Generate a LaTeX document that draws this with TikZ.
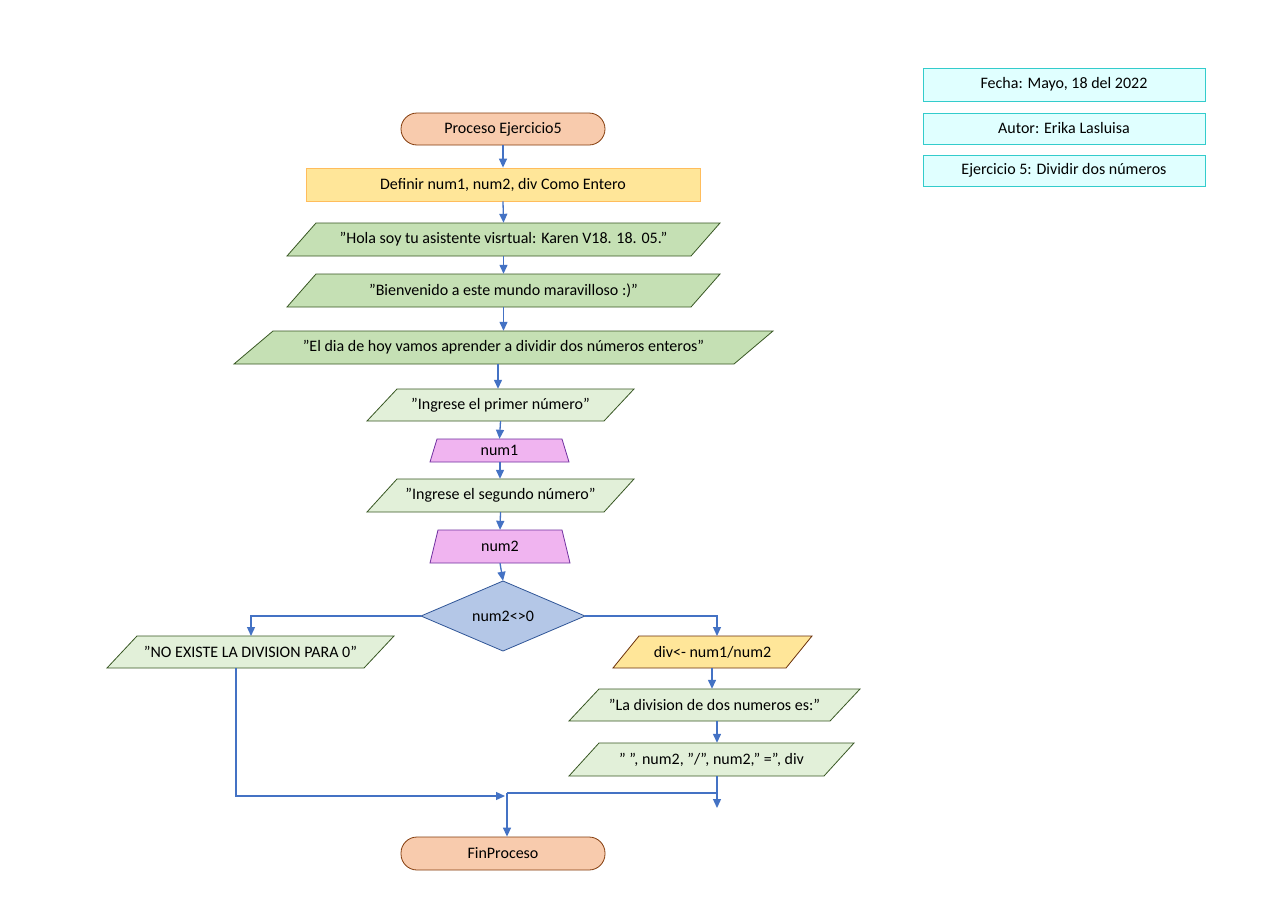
\documentclass[tikz,border=0pt]{standalone}
\usepackage{fontspec}
\setmainfont{Carlito}
\usetikzlibrary{arrows.meta}
\definecolor{ar}{HTML}{4472C4}
\definecolor{gd}{HTML}{C5E0B4}
\definecolor{gl}{HTML}{E2F0D9}
\definecolor{gb}{HTML}{385723}
\definecolor{yf}{HTML}{FFE699}
\definecolor{pf}{HTML}{F0B4F0}
\definecolor{pb}{HTML}{7030A0}
\definecolor{of}{HTML}{F8CBAD}
\definecolor{ob}{HTML}{843C0C}
\definecolor{cf}{HTML}{E0FFFF}
\definecolor{cb}{HTML}{33CCCC}
\definecolor{bf}{HTML}{B4C7E7}
\definecolor{bb}{HTML}{2F5597}
\tikzset{x=1pt,y=-1pt,
 every node/.style={font=\fontsize{16}{19}\selectfont,inner sep=0},
 arr/.style={draw=ar,line width=1.3pt,-{Triangle[length=9pt,width=8pt]}},
 ln/.style={draw=ar,line width=1.3pt},
 term/.style={draw=ob,fill=of,rounded corners=16pt,line width=0.8pt},
 shp/.style={line width=0.8pt}}
% name, x1, x2, y1, y2, slant, style, text
\newcommand\pg[8]{%
 \path[shp,#7] (#2,#5) -- ({#2+#6},#4) -- (#3,#4) -- ({#3-#6},#5) -- cycle;
 \node[minimum width={#3-#2-#6},minimum height={#5-#4}] (#1) at ({(#2+#3)/2},{(#4+#5)/2}) {#8};}
\newcommand\tz[7]{% name, x1 top,x2 top, y1,y2, inset, text
 \path[shp,draw=pb,fill=pf] ({#2-#6},#5) -- (#2,#4) -- (#3,#4) -- ({#3+#6},#5) -- cycle;
 \node[minimum width={#3-#2},minimum height={#5-#4}] (#1) at ({(#2+#3)/2},{(#4+#5)/2}) {#7};}
\begin{document}
\begin{tikzpicture}
\useasboundingbox[fill=white] (0,0) rectangle (1280,905);
\node[term,minimum width=204,minimum height=32] (start) at (503,129) {Proceso Ejercicio5};
\node[shp,draw=yf!60!orange,fill=yf,minimum width=394,minimum height=33] (def) at (503,184.5) {Definir num1, num2, div Como Entero};
\pg{p1}{287}{720}{223}{256}{29}{draw=gb,fill=gd}{"Hola soy tu asistente visrtual: Karen V18. 18. 05."}
\pg{p2}{287}{720}{274}{307}{29}{draw=gb,fill=gd}{"Bienvenido a este mundo maravilloso :)"}
\pg{p3}{234}{773}{331}{364}{39}{draw=gb,fill=gd}{"El dia de hoy vamos aprender a dividir dos números enteros"}
\pg{p4}{367}{634}{389}{421}{30}{draw=gb,fill=gl}{"Ingrese el primer número"}
\tz{n1}{437}{562}{439}{462}{7}{num1}
\pg{p5}{367}{634}{479}{512}{30}{draw=gb,fill=gl}{"Ingrese el segundo número"}
\tz{n2}{438}{562}{530}{563}{8}{num2}
\path[shp,draw=bb,fill=bf] (421,616) -- (503,581) -- (585,616) -- (503,651) -- cycle;
\node[minimum width=164,minimum height=70] (dec) at (503,616) {num2<>0};
\pg{pl}{107}{394}{636}{668}{30}{draw=gb,fill=gl}{"NO EXISTE LA DIVISION PARA 0"}
\pg{pd}{613}{812}{636}{668}{26}{draw=ob!80!black,fill=yf}{div<- num1/num2}
\pg{pr1}{569}{860}{689}{721}{30}{draw=gb,fill=gl}{"La division de dos numeros es:"}
\pg{pr2}{569}{854}{743}{776}{30}{draw=gb,fill=gl}{" ", num2, "/", num2," =", div}
\node[term,minimum width=204,minimum height=33] (fin) at (503,853.5) {FinProceso};
\node[shp,draw=cb,fill=cf,minimum width=282,minimum height=33] (i1) at (1064,84.5) {Fecha: Mayo, 18 del 2022};
\node[shp,draw=cb,fill=cf,minimum width=282,minimum height=31] (i2) at (1064,128.5) {Autor: Erika Lasluisa};
\node[shp,draw=cb,fill=cf,minimum width=282,minimum height=31] (i3) at (1064,170.5) {Ejercicio 5: Dividir dos números};
\coordinate (m1) at (505,796);
\coordinate (m2) at (717,808);
\draw[arr] (start.south) -- (def.north);
\draw[arr] (def.south) -- (p1.north);
\draw[arr] (p1.south) -- (p2.north);
\draw[arr] (p2.south) -- (p3.north);
\draw[arr] (p3.south -| 498,0) -- (p4.north -| 498,0);
\draw[arr] (p4.south) -- (n1.north);
\draw[arr] (n1.south -| 500,0) -- (p5.north -| 500,0);
\draw[arr] (p5.south) -- (n2.north);
\draw[arr] (n2.south) -- (dec.north);
\draw[arr] (dec.west) -| (251,636);
\draw[arr] (dec.east) -| (717,636);
\draw[arr] (pd.south -| 712,0) -- (pr1.north -| 712,0);
\draw[arr] (pr1.south -| 717,0) -- (pr2.north -| 717,0);
\draw[arr] (236,668) |- (m1);
\draw[arr] (pr2.south -| 717,0) -- (m2);
\draw[ln] (717,793) -- (507,793);
\draw[arr] (507,793) -- (fin.north -| 507,0);
\end{tikzpicture}
\end{document}
